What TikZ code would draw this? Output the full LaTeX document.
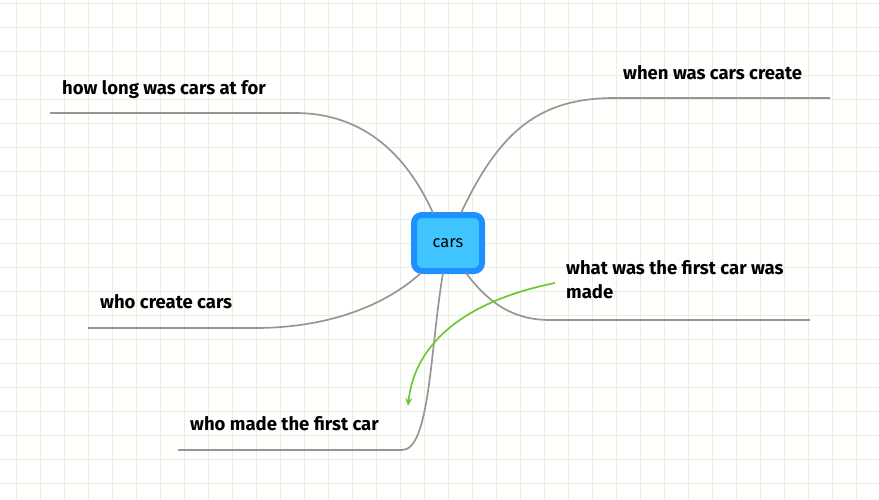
\documentclass[tikz,border=0pt]{standalone}
\usepackage{fontspec}
\setmainfont{Fira Sans}
\usetikzlibrary{arrows.meta}
\begin{document}
\begin{tikzpicture}[x=1pt,y=-1pt,
  lab/.style={anchor=base west, inner sep=0pt, font=\fontsize{18.5}{24}\selectfont\bfseries}]
\useasboundingbox (0,0) rectangle (879,499);
\foreach \x in {16,40,...,879} \draw[color={rgb,255:red,232;green,240;blue,220}, line width=0.8pt] (\x,0) -- (\x,499);
\foreach \y in {3,27,...,499} \draw[color={rgb,255:red,232;green,240;blue,220}, line width=0.8pt] (0,\y) -- (879,\y);
\definecolor{outer}{RGB}{30,144,255}
\definecolor{inner}{RGB}{64,196,255}
\definecolor{brc}{RGB}{150,150,150}
\tikzset{br/.style={draw=brc, line width=1.7pt}}
\node[draw=outer, fill=inner, line width=6pt, rounded corners=8pt, minimum width=68pt, minimum height=56pt, font=\fontsize{16.5}{20}\selectfont] (c) at (448,243) {cars};
\coordinate (a1) at (50,113); \coordinate (a2) at (295,113);
\coordinate (b1) at (830,98); \coordinate (b2) at (615,98);
\coordinate (d1) at (88,328); \coordinate (d2) at (255,328);
\coordinate (e1) at (178,450); \coordinate (e2) at (402,450);
\coordinate (f1) at (810,320); \coordinate (f2) at (550,320);
\draw[br] (433,213) .. controls (400,140) and (350,113) .. (a2) -- (a1);
\draw[br] (461,213) .. controls (500,130) and (540,98) .. (b2) -- (b1);
\draw[br] (421,273) .. controls (380,310) and (320,328) .. (d2) -- (d1);
\draw[br] (443,273) .. controls (430,350) and (430,450) .. (e2) -- (e1);
\draw[br] (466,273) .. controls (490,305) and (515,320) .. (f2) -- (f1);
\node[lab] (t1) at (62,94) {how long was cars at for};
\node[lab] (t2) at (623,79) {when was cars create};
\node[lab] (t3) at (100,308) {who create cars};
\node[lab] (t4) at (190,430) {who made the first car};
\node[lab, align=left, anchor=north west] (t5) at (566,260) {what was the first car was\\made};
\coordinate (g) at (555,283);
\coordinate (h) at (408,406);
\draw[color={rgb,255:red,110;green,200;blue,50}, line width=1.7pt, -{Stealth[length=8pt,width=7pt]}] (g) .. controls (470,300) and (415,340) .. (h);
\end{tikzpicture}
\end{document}
